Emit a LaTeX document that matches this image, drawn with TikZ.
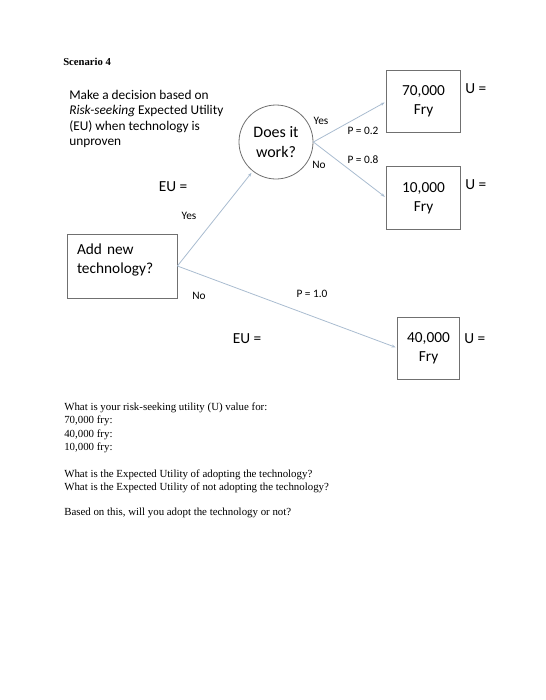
\documentclass[tikz,border=0pt]{standalone}
\usepackage{fontspec}
\setmainfont{Carlito}
\newfontfamily\timesfont{Liberation Serif}
\usetikzlibrary{arrows.meta}
\definecolor{linegray}{HTML}{707070}
\definecolor{branchblue}{HTML}{A9BCD0}
\tikzset{
  outcome/.style={draw=linegray,line width=0.6pt,align=center,minimum width=55pt,minimum height=47pt,inner sep=0pt,font=\fontsize{11.5}{14}\selectfont},
  chance/.style={circle,draw=linegray,line width=0.6pt,minimum size=55.5pt,inner sep=0pt,align=center,font=\fontsize{12}{14.5}\selectfont},
  branch/.style={draw=branchblue,line width=0.6pt,-{Stealth[length=3pt,width=2.2pt]},shorten >=1.5pt},
  small/.style={font=\fontsize{8.5}{10}\selectfont},
  big/.style={font=\fontsize{11.5}{14}\selectfont}
}
\begin{document}
\begin{tikzpicture}[x=0.75pt,y=-0.75pt]
\useasboundingbox (0,0) rectangle (546,700);
\node[anchor=west,inner sep=0pt,font=\timesfont\bfseries\fontsize{8}{10}\selectfont] (title) at (63,62) {Scenario 4};
\node[anchor=north west,inner sep=0pt,align=left,font=\fontsize{10}{11.6}\selectfont] (intro) at (69,90)
  {Make a decision based on\\\textit{Risk-seeking} Expected Utility\\(EU) when technology is\\unproven};
% decision tree
\node[outcome,minimum width=82.5pt,minimum height=48pt,text width=67.5pt,inner xsep=7.5pt,align=left,text depth=25pt] (adopt) at (122,266) {Add new\\technology?};
\node[chance] (work) at (276,142) {Does it\\work?};
\node[outcome] (high) at (423.5,101.5) {70,000\\Fry};
\node[outcome] (low) at (423.5,198) {10,000\\Fry};
\node[outcome,minimum width=46pt,minimum height=46.5pt] (keep) at (428.5,348) {40,000\\Fry};
\draw[branch] (adopt.east) -- (work);
\draw[branch] (work.east) -- (high.west);
\draw[branch] (work.east) -- (low.west);
\draw[branch] (adopt.east) -- (keep.west);
% labels
\node[small] (yesw) at (321,121) {Yes};
\node[small] (pw) at (363,131) {P = 0.2};
\node[small] (pf) at (363,160) {P = 0.8};
\node[small] (nof) at (319,165) {No};
\node[small] (yesa) at (189,216) {Yes};
\node[small] (noa) at (199,296) {No};
\node[small] (pk) at (312,294) {P = 1.0};
\node[big] (euadopt) at (173,187) {EU =};
\node[big] (eukeep) at (247,339) {EU =};
\node[big,anchor=west,inner sep=0pt] (uhigh) at (465,89) {U =};
\node[big,anchor=west,inner sep=0pt] (ulow) at (465,185) {U =};
\node[big,anchor=west,inner sep=0pt] (ukeep) at (464,339) {U =};
% questions
\node[anchor=north west,inner sep=0pt,align=left,font=\timesfont\fontsize{8.15}{10}\selectfont] (questions) at (64,402.5)
  {What is your risk-seeking utility (U) value for:\\70,000 fry:\\40,000 fry:\\10,000 fry:\\[10pt]
   What is the Expected Utility of adopting the technology?\\What is the Expected Utility of not adopting the technology?\\[9pt]
   Based on this, will you adopt the technology or not?};
\end{tikzpicture}
\end{document}
